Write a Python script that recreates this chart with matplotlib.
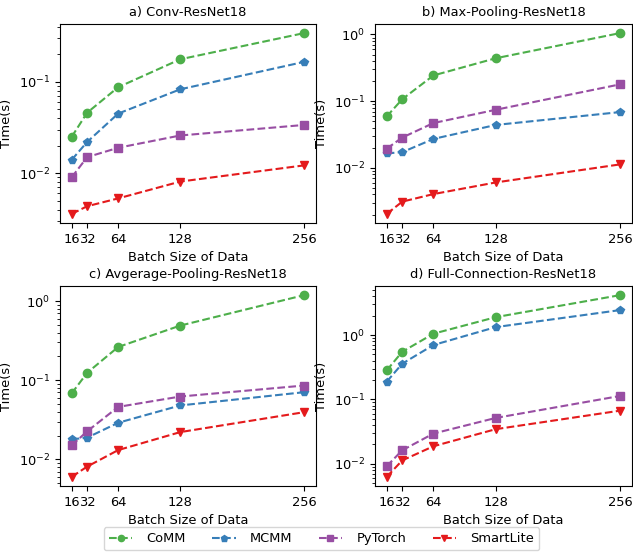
import matplotlib
matplotlib.use("Agg")
import matplotlib.pyplot as plt

batch = [16, 32, 64, 128, 256]
tick_labels = ["16", "32", "64", "128", "256"]
series_names = ["CoMM", "MCMM", "PyTorch", "SmartLite"]
titles = ["a) Conv-ResNet18", "b) Max-Pooling-ResNet18",
          "c) Avgerage-Pooling-ResNet18", "d) Full-Connection-ResNet18"]

conv_comm = [0.025, 0.046, 0.0875, 0.177, 0.343]
conv_mcmm = [0.014, 0.022, 0.045, 0.083, 0.166]
conv_pytorch = [0.009, 0.015, 0.019, 0.0259, 0.0338]
conv_smartlite = [0.00358, 0.00435, 0.0053, 0.0081, 0.0122]

maxp_comm = [0.059, 0.107, 0.243, 0.44, 1.05]
maxp_mcmm = [0.0165, 0.0172, 0.0272, 0.044, 0.0687]
maxp_pytorch = [0.0194, 0.0285, 0.047, 0.0743, 0.179]
maxp_smartlite = [0.00204, 0.00312, 0.00405, 0.00605, 0.0113]

avgp_comm = [0.068, 0.124, 0.263, 0.49, 1.19]
avgp_mcmm = [0.0179, 0.0188, 0.029, 0.048, 0.0706]
avgp_pytorch = [0.015, 0.0226, 0.046, 0.0622, 0.0857]
avgp_smartlite = [0.006, 0.0081, 0.0131, 0.0221, 0.0395]

fc_comm = [0.282, 0.55, 1.05, 1.9, 4.19]
fc_mcmm = [0.188, 0.359, 0.7, 1.33, 2.45]
fc_pytorch = [0.0091, 0.0161, 0.0293, 0.0513, 0.113]
fc_smartlite = [0.0062, 0.0112, 0.0186, 0.0343, 0.0667]

panels = [
    [conv_comm, conv_mcmm, conv_pytorch, conv_smartlite],
    [maxp_comm, maxp_mcmm, maxp_pytorch, maxp_smartlite],
    [avgp_comm, avgp_mcmm, avgp_pytorch, avgp_smartlite],
    [fc_comm, fc_mcmm, fc_pytorch, fc_smartlite],
]

colors = ["#4daf4a", "#377eb8", "#984ea3", "#e41a1c"]
markers = ["o", "p", "s", "v"]

FS = 9.4
plt.rcParams["font.size"] = FS

fig = plt.figure(figsize=(6.33, 5.52), dpi=100)
W, H = 633, 552
rects = [
    (60, 24, 316, 223),
    (375, 24, 632, 223),
    (60, 286, 316, 486),
    (375, 286, 632, 486),
]
handles = []
for i, (x0, y0, x1, y1) in enumerate(rects):
    ax = fig.add_axes([x0 / W, 1 - y1 / H, (x1 - x0) / W, (y1 - y0) / H])
    for j, vals in enumerate(panels[i]):
        h, = ax.plot(batch, vals, linestyle="--", marker=markers[j],
                     color=colors[j], label=series_names[j], markersize=6)
        if i == 0:
            handles.append(h)
    ax.set_yscale("log")
    ax.set_xticks(batch)
    ax.set_xticklabels(tick_labels)
    ax.tick_params(labelsize=FS)
    ax.set_title(titles[i], fontsize=FS)
    ax.set_xlabel("Batch Size of Data", fontsize=FS)
    ax.set_ylabel("Time(s)", fontsize=FS)

fig.legend(handles=handles, labels=series_names, loc="lower center",
           ncol=4, bbox_to_anchor=(0.508, 0.003), borderaxespad=0.0,
           fontsize=FS, columnspacing=2.0, handletextpad=1.1,
           handlelength=1.8, markerscale=0.75)

fig.savefig("out.png", dpi=100)
